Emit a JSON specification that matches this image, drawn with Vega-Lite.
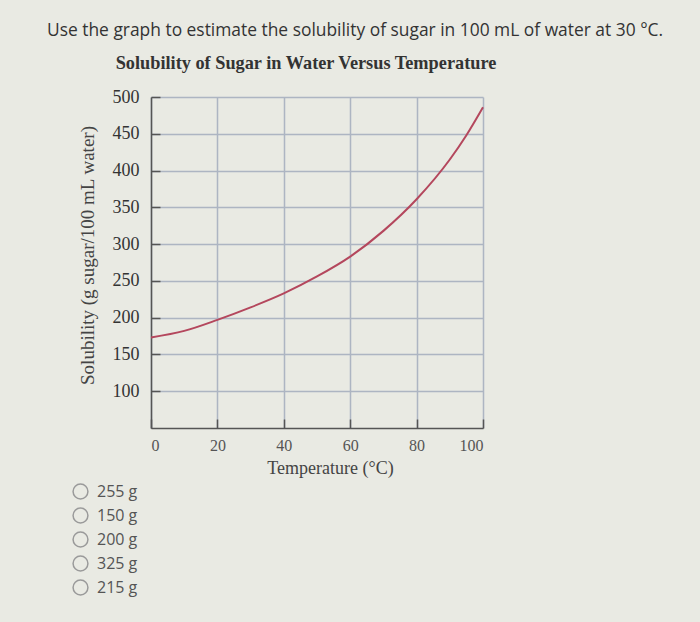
{
  "$schema": "https://vega.github.io/schema/vega-lite/v6.json",
  "background": "#e9eae3",
  "padding": {"left": 47, "top": 22, "right": 38, "bottom": 25},
  "title": {
    "text": "Use the graph to estimate the solubility of sugar in 100 mL of water at 30 °C.",
    "anchor": "start",
    "font": "Open Sans",
    "fontSize": 17.4,
    "fontWeight": "normal",
    "color": "#333333",
    "dx": -25,
    "offset": 14
  },
  "config": {
    "view": {"stroke": null}
  },
  "vconcat": [
    {
      "width": 332,
      "height": 331,
      "title": {
        "text": "Solubility of Sugar in Water Versus Temperature",
        "font": "Liberation Serif",
        "fontSize": 18.3,
        "fontWeight": "bold",
        "color": "#333333",
        "anchor": "middle",
        "frame": "group",
        "dx": -11,
        "offset": 15
      },
      "layer": [
        {
          "data": {
            "values": [
              {"temperature": 0, "solubility": 173},
              {"temperature": 10, "solubility": 182},
              {"temperature": 20, "solubility": 197},
              {"temperature": 30, "solubility": 214},
              {"temperature": 40, "solubility": 233},
              {"temperature": 50, "solubility": 256},
              {"temperature": 60, "solubility": 283},
              {"temperature": 70, "solubility": 318},
              {"temperature": 80, "solubility": 361},
              {"temperature": 90, "solubility": 415},
              {"temperature": 95, "solubility": 448},
              {"temperature": 100, "solubility": 486}
            ]
          },
          "mark": {"type": "line", "color": "#b4475d", "strokeWidth": 2, "interpolate": "monotone"},
          "encoding": {
            "x": {
              "field": "temperature",
              "type": "quantitative",
              "scale": {"domain": [0, 100], "nice": false},
              "axis": {
                "values": [0, 20, 40, 60, 80, 100],
                "title": "Temperature (°C)",
                "titleFont": "Liberation Serif",
                "titleFontSize": 18,
                "titleFontWeight": "normal",
                "titleColor": "#444444",
                "titlePadding": 6,
                "titleX": 179,
                "labelFont": "Liberation Serif",
                "labelFontSize": 16,
                "labelColor": "#555555",
                "labelPadding": 18,
                "ticks": true,
                "tickSize": -9,
                "tickColor": "#555555",
                "tickWidth": 1.5,
                "domainColor": "#555555",
                "domainWidth": 1.5,
                "grid": true,
                "gridColor": "#adb5c2",
                "gridWidth": 1.5
              }
            },
            "y": {
              "field": "solubility",
              "type": "quantitative",
              "scale": {"domain": [50, 500], "nice": false},
              "axis": {
                "values": [100, 150, 200, 250, 300, 350, 400, 450, 500],
                "title": "Solubility (g sugar/100 mL water)",
                "titleFont": "Liberation Serif",
                "titleFontSize": 19,
                "titleFontWeight": "normal",
                "titleColor": "#444444",
                "titlePadding": 15,
                "titleY": 158,
                "labelFont": "Liberation Serif",
                "labelFontSize": 18,
                "labelColor": "#333333",
                "labelPadding": 21,
                "ticks": true,
                "tickSize": -9,
                "tickColor": "#555555",
                "tickWidth": 1.5,
                "domainColor": "#555555",
                "domainWidth": 1.5,
                "grid": true,
                "gridColor": "#adb5c2",
                "gridWidth": 1.5
              }
            }
          }
        },
        {
          "data": {
            "values": [
              {"option": "255 g", "order": 1},
              {"option": "150 g", "order": 2},
              {"option": "200 g", "order": 3},
              {"option": "325 g", "order": 4},
              {"option": "215 g", "order": 5}
            ]
          },
          "mark": {"type": "point", "opacity": 0},
          "encoding": {
            "shape": {
              "field": "option",
              "type": "nominal",
              "scale": {
                "domain": ["255 g", "150 g", "200 g", "325 g", "215 g"],
                "range": ["circle", "circle", "circle", "circle", "circle"]
              },
              "legend": {
                "title": null,
                "orient": "none",
                "direction": "vertical",
                "legendX": -79,
                "legendY": 386,
                "padding": 0,
                "symbolType": "circle",
                "symbolSize": 220,
                "symbolStrokeWidth": 1.5,
                "symbolOpacity": 1,
                "symbolFillColor": "#ffffff",
                "symbolStrokeColor": "#9a9a9a",
                "labelFont": "Open Sans",
                "labelFontSize": 16,
                "labelColor": "#555555",
                "labelOffset": 8,
                "rowPadding": 3,
                "encode": {
                  "symbols": {
                    "update": {
                      "fill": {"value": "#ffffff"},
                      "stroke": {"value": "#9a9a9a"},
                      "opacity": {"value": 1},
                      "strokeWidth": {"value": 1.5}
                    }
                  }
                }
              }
            }
          }
        }
      ]
    }
  ]
}
